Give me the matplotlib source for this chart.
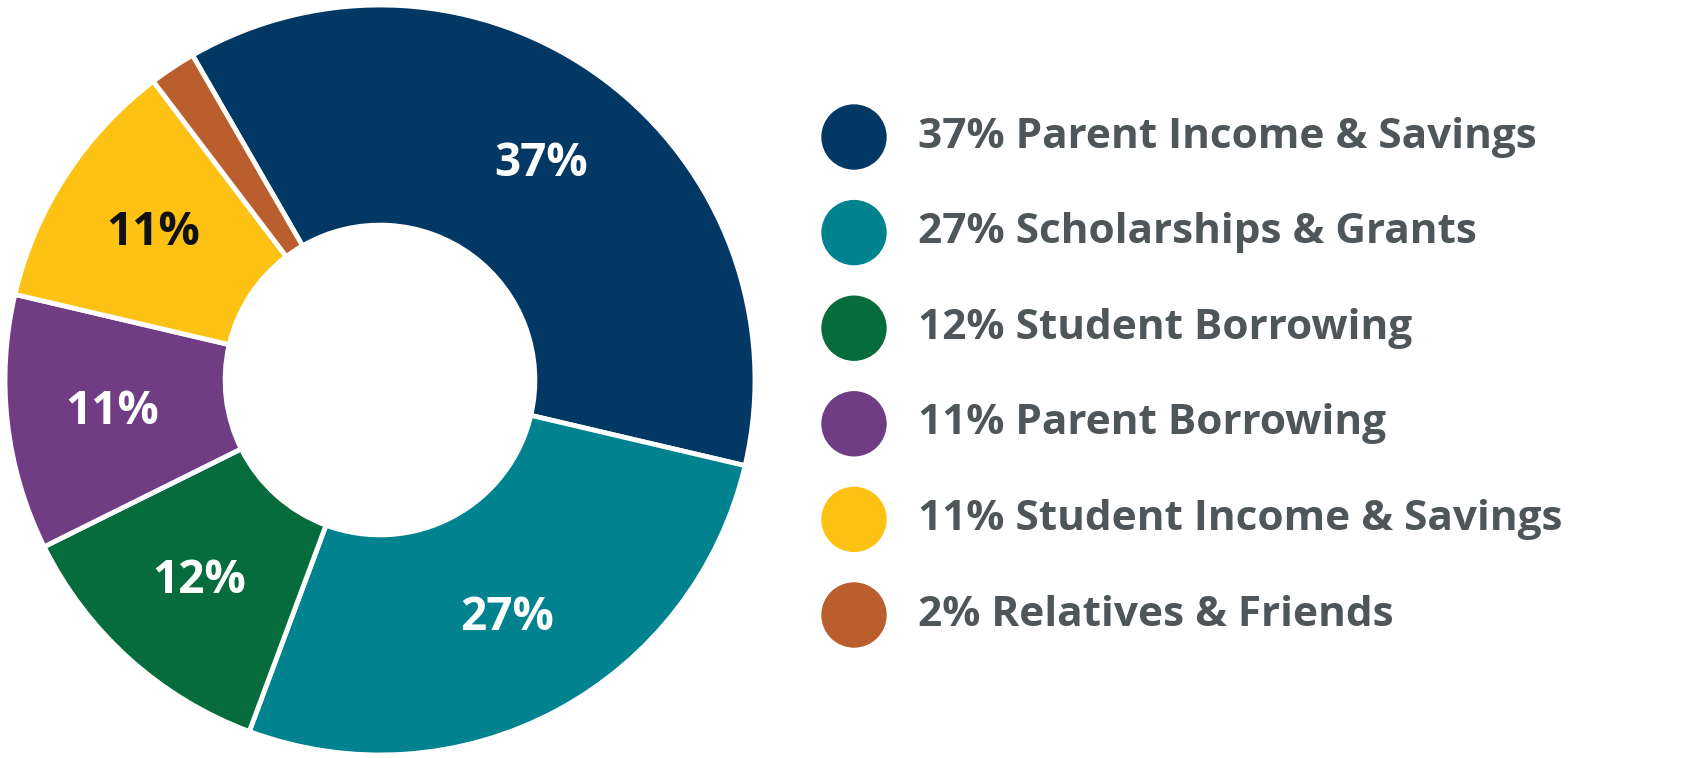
import matplotlib
matplotlib.use("Agg")
import matplotlib.pyplot as plt
from matplotlib.patches import Circle
import numpy as np

# data
labels = ["Parent Income & Savings", "Scholarships & Grants", "Student Borrowing",
          "Parent Borrowing", "Student Income & Savings", "Relatives & Friends"]
shares = [37, 27, 12, 11, 11, 2]
colors = ["#033865", "#00838F", "#076C3B", "#703D85", "#FEC214", "#B95E2C"]
label_colors = ["white", "white", "white", "white", "#111111", None]

plt.rcParams['font.family'] = ['Open Sans', 'DejaVu Sans']

W, H = 1692, 758
fig = plt.figure(figsize=(W / 100, H / 100), dpi=100)

# donut, centre (380, 380) px, radius 375 px
cx, cy, R = 380, 380, 375
ax = fig.add_axes([(cx - R) / W, (H - cy - R) / H, 2 * R / W, 2 * R / H])
wedges, _ = ax.pie(shares, colors=colors, startangle=120, counterclock=False,
                   radius=1, wedgeprops=dict(width=0.587, edgecolor="white", linewidth=3.5))
ax.set_xlim(-1, 1)
ax.set_ylim(-1, 1)
ax.set_aspect("equal")
ax.axis("off")

for w, s, c in zip(wedges, shares, label_colors):
    if c is None:
        continue
    ang = np.deg2rad((w.theta1 + w.theta2) / 2)
    r = 0.72
    ax.text(r * np.cos(ang), r * np.sin(ang), f"{s}%", ha="center", va="center",
            fontsize=33, fontweight="bold", color=c)

# legend
lax = fig.add_axes([0, 0, 1, 1])
lax.set_xlim(0, W)
lax.set_ylim(H, 0)
lax.axis("off")
row_y0, row_dy = 137, 95.6
for i, (lab, s, col) in enumerate(zip(labels, shares, colors)):
    y = row_y0 + i * row_dy
    lax.add_patch(Circle((854, y), 32, color=col))
    lax.text(918, y, f"{s}% {lab}", ha="left", va="center", fontsize=30.5,
             fontweight="bold", color="#4E565A")

fig.savefig("out.png", dpi=100)
